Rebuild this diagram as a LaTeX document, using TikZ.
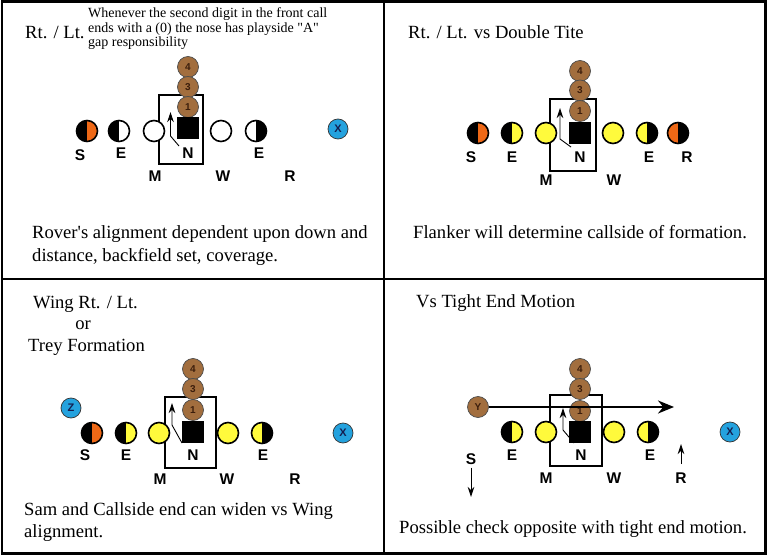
\documentclass[tikz,border=0pt]{standalone}
\usepackage{fontspec}
\setmainfont{Liberation Serif}
\newfontfamily\labfont{Liberation Sans}
\font\ttlf="Liberation Serif" at 18.6pt
\font\notef="Liberation Serif" at 14pt
\usetikzlibrary{arrows.meta}
\definecolor{brn}{RGB}{162,110,62}
\definecolor{numc}{RGB}{60,30,12}
\definecolor{org}{RGB}{238,104,22}
\definecolor{yel}{RGB}{255,250,60}
\definecolor{blu}{RGB}{36,162,222}
\definecolor{navy}{RGB}{20,30,80}
\tikzset{
  pl/.style={circle, draw=black, line width=1.6pt, minimum size=21pt, inner sep=0pt},
  full/.style={pl, fill=#1},
  lh/.style 2 args={pl, fill=#2, path picture={\fill[#1] (path picture bounding box.south west) rectangle (path picture bounding box.north);}},
  num/.style={circle, draw=black!70, line width=0.7pt, fill=brn, minimum size=21pt, inner sep=0pt, text=numc, font=\labfont\bfseries\fontsize{10}{10}\selectfont},
  wr/.style={circle, draw=black!80, line width=0.7pt, fill=blu, minimum size=20pt, inner sep=0pt, text=navy, font=\labfont\bfseries\fontsize{11}{11}\selectfont},
  lbl/.style={inner sep=0pt, text height=11pt, text depth=0pt, font=\labfont\bfseries\fontsize{15.5}{15.5}\selectfont},
  sq/.style={fill=black, minimum width=22pt, minimum height=22pt, inner sep=0pt},
  techbox/.style={draw=black, line width=1.2pt, inner sep=0pt},
  ttl/.style={anchor=base west, inner sep=0pt, font=\ttlf},
  note/.style={anchor=base west, inner sep=0pt, font=\notef},
  small/.style={line width=0.9pt, -{Stealth[length=10pt,width=6.5pt]}},
  motion/.style={line width=2.4pt, -{Stealth[length=16pt,width=13pt]}},
  frame/.style={line width=2.6pt}
}
\begin{document}
\begin{tikzpicture}[x=1pt,y=-1pt]
\useasboundingbox (0,0) rectangle (768,556);
\fill[white] (0,0) rectangle (768,556);
% frame and dividers
\draw[frame] (2,1.5) rectangle (765.5,553.5);
\draw[frame] (384,1.5) -- (384,553.5);
\draw[frame] (2,279) -- (765.5,279);

%%%%%%%%%%%%%%%% Q1
\node[ttl] (t1) at (25,39) {Rt. / Lt.};
\node[note] (n1a) at (88,18) {Whenever the second digit in the front call};
\node[note] (n1b) at (88,33) {ends with a (0) the nose has playside "A"};
\node[note] (n1c) at (88,47) {gap responsibility};
\node[techbox, minimum width=44pt, minimum height=69pt] (b1) at (181,129.5) {};
\node[num] (c14) at (188,67) {4};
\node[num] (c13) at (188,87) {3};
\node[num] (c11) at (188,107) {1};
\node[sq] (sq1) at (188,128.5) {};
\node[lh={black}{org}] (s1) at (87,131) {};
\node[lh={black}{white}] (e1) at (119,131) {};
\node[full=white] (g1) at (154,131) {};
\node[full=white] (h1) at (221,131) {};
\node[lh={white}{black}] (f1) at (256,131) {};
\node[wr] (x1) at (338,129) {X};
\coordinate (a1t) at (170.5,112);
\coordinate (a1m) at (170.5,136);
\coordinate (a1e) at (179,146);
\draw[small] (a1e) -- (a1m) -- (a1t);
\node[lbl] (ls1) at (80,155) {S};
\node[lbl] (le1) at (121,153) {E};
\node[lbl] (ln1) at (188,153) {N};
\node[lbl] (lf1) at (259,153) {E};
\node[lbl] (lm1) at (155,176) {M};
\node[lbl] (lw1) at (223,176) {W};
\node[lbl] (lr1) at (290,176) {R};
\node[ttl] (d1a) at (32,238) {Rover's alignment dependent upon down and};
\node[ttl] (d1b) at (32,261) {distance, backfield set, coverage.};

%%%%%%%%%%%%%%%% Q2
\node[ttl] (t2) at (408,39) {Rt. / Lt. vs Double Tite};
\node[techbox, minimum width=46pt, minimum height=72pt] (b2) at (573,135) {};
\node[num] (c24) at (580,71) {4};
\node[num] (c23) at (580,90.5) {3};
\node[num] (c21) at (580,111) {1};
\node[sq] (sq2) at (579.5,133) {};
\node[lh={black}{org}] (s2) at (478,133) {};
\node[lh={black}{yel}] (e2) at (512,133) {};
\node[full=yel] (g2) at (546,133) {};
\node[full=yel] (h2) at (613,133) {};
\node[lh={yel}{black}] (f2) at (647,133) {};
\node[lh={org}{black}] (r2) at (678,133) {};
\coordinate (a2t) at (560,108);
\coordinate (a2m) at (560,139);
\coordinate (a2e) at (571,147);
\draw[small] (a2e) -- (a2m) -- (a2t);
\node[lbl] (ls2) at (471,157) {S};
\node[lbl] (le2) at (512,157) {E};
\node[lbl] (ln2) at (580,157) {N};
\node[lbl] (lf2) at (649,157) {E};
\node[lbl] (lr2) at (687,157) {R};
\node[lbl] (lm2) at (546,180) {M};
\node[lbl] (lw2) at (614,180) {W};
\node[ttl] (d2a) at (413,238) {Flanker will determine callside of formation.};

%%%%%%%%%%%%%%%% Q3
\node[ttl] (t3a) at (33,308) {Wing Rt. / Lt.};
\node[ttl, anchor=base] (t3b) at (83,329) {or};
\node[ttl] (t3c) at (28,351) {Trey Formation};
\node[techbox, minimum width=51pt, minimum height=71pt] (b3) at (190.5,432.5) {};
\node[num] (c34) at (193,369) {4};
\node[num] (c33) at (193,389) {3};
\node[num] (c31) at (193,410) {1};
\node[sq] (sq3) at (193,432) {};
\node[lh={black}{org}] (s3) at (92,433) {};
\node[lh={black}{yel}] (e3) at (126,433) {};
\node[full=yel] (g3) at (159,433) {};
\node[full=yel] (h3) at (228,433) {};
\node[lh={yel}{black}] (f3) at (262,433) {};
\node[wr] (x3) at (343,433) {X};
\node[wr] (z3) at (71,408) {Z};
\coordinate (a3t) at (172,403);
\coordinate (a3m) at (172,425);
\coordinate (a3e) at (182,443);
\draw[small] (a3e) -- (a3m) -- (a3t);
\node[lbl] (ls3) at (85,455) {S};
\node[lbl] (le3) at (126,455) {E};
\node[lbl] (ln3) at (193,455) {N};
\node[lbl] (lf3) at (263,455) {E};
\node[lbl] (lm3) at (160,479) {M};
\node[lbl] (lw3) at (227,479) {W};
\node[lbl] (lr3) at (295,479) {R};
\node[ttl] (d3a) at (24,515) {Sam and Callside end can widen vs Wing};
\node[ttl] (d3b) at (24,537) {alignment.};

%%%%%%%%%%%%%%%% Q4
\node[ttl] (t4) at (416,307) {Vs Tight End Motion};
\node[techbox, minimum width=52pt, minimum height=71pt] (b4) at (576,430.5) {};
\node[num] (c44) at (580,369) {4};
\node[num] (c43) at (580,389) {3};
\node[num] (c41) at (580,411) {1};
\node[sq] (sq4) at (580,431.5) {};
\node[num] (y4) at (478,407) {Y};
\coordinate (y4t) at (674,407);
\draw[motion] (y4.east) -- (y4t);
\node[lh={black}{yel}] (e4) at (512,432) {};
\node[full=yel] (g4) at (546,432) {};
\node[full=yel] (h4) at (614,432) {};
\node[lh={yel}{black}] (f4) at (648,432) {};
\node[wr] (x4) at (730,432) {X};
\coordinate (a4t) at (563,408);
\coordinate (a4m) at (563,430);
\coordinate (a4e) at (574,443);
\draw[small] (a4e) -- (a4m) -- (a4t);
\node[lbl] (ls4) at (471,459) {S};
\node[lbl] (le4) at (512,455) {E};
\node[lbl] (ln4) at (581,455) {N};
\node[lbl] (lf4) at (650,455) {E};
\node[lbl] (lm4) at (546,478) {M};
\node[lbl] (lw4) at (614,478) {W};
\node[lbl] (lr4) at (681,478) {R};
\coordinate (s4b) at (471,497);
\draw[small] (ls4.south) ++(0,3) -- (s4b);
\coordinate (r4b) at (681,464);
\coordinate (r4t) at (681,444);
\draw[small] (r4b) -- (r4t);
\node[ttl] (d4a) at (399,533) {Possible check opposite with tight end motion.};
\end{tikzpicture}
\end{document}
